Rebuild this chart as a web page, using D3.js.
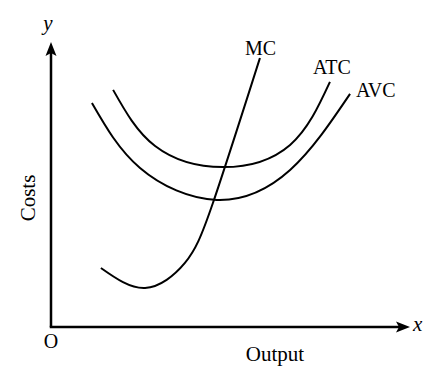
<!DOCTYPE html>
<html>
<head>
<meta charset="utf-8">
<script src="https://cdn.jsdelivr.net/npm/d3@7"></script>
<style>
  html, body { margin: 0; padding: 0; background: #fff; }
  svg { display: block; }
  text { font-family: "Liberation Serif", "Times New Roman", serif; fill: #000; }
</style>
</head>
<body>
<div id="chart"></div>
<script>
// cost curves (output, cost) on a 0..100 scale
var mcOutput  = [13.9, 26.2, 37.3, 45.1, 58.2];
var mcCost    = [20.7, 13.7, 22.5, 43.5, 94.4];

var atcOutput = [17.3, 29.0, 47.9, 66.6, 77.7];
var atcCost   = [83.2, 63.5, 56.1, 63.9, 86.0];

var avcOutput = [11.4, 24.8, 46.2, 66.6, 83.3];
var avcCost   = [78.6, 55.8, 44.6, 55.1, 81.8];

var curveNames = ["MC", "ATC", "AVC"];

var width = 440, height = 386;

var svg = d3.select("#chart")
    .append("svg")
    .attr("width", width)
    .attr("height", height);

var xScale = d3.scaleLinear().domain([0, 100]).range([51, 410]);
var yScale = d3.scaleLinear().domain([0, 100]).range([327, 42]);

var x0 = xScale(0), y0 = yScale(0);
var xEnd = xScale(100), yEnd = yScale(100);

// axes with arrow heads
svg.append("line")
    .attr("x1", x0).attr("y1", y0)
    .attr("x2", x0).attr("y2", yEnd + 10)
    .attr("stroke", "#000")
    .attr("stroke-width", 2.5);

svg.append("line")
    .attr("x1", x0 - 1.25).attr("y1", y0)
    .attr("x2", xEnd - 10).attr("y2", y0)
    .attr("stroke", "#000")
    .attr("stroke-width", 2.5);

svg.append("path")
    .attr("d", "M" + x0 + "," + yEnd +
               " L" + (x0 - 5.5) + "," + (yEnd + 14) +
               " L" + x0 + "," + (yEnd + 11) +
               " L" + (x0 + 5.5) + "," + (yEnd + 14) + " Z")
    .attr("fill", "#000");

svg.append("path")
    .attr("d", "M" + xEnd + "," + y0 +
               " L" + (xEnd - 14) + "," + (y0 - 5.5) +
               " L" + (xEnd - 11) + "," + y0 +
               " L" + (xEnd - 14) + "," + (y0 + 5.5) + " Z")
    .attr("fill", "#000");

// curves
var line = d3.line()
    .x(d => xScale(d[0]))
    .y(d => yScale(d[1]))
    .curve(d3.curveNatural);

var series = [
  d3.zip(mcOutput, mcCost),
  d3.zip(atcOutput, atcCost),
  d3.zip(avcOutput, avcCost)
];

svg.selectAll("path.cost")
    .data(series)
    .enter().append("path")
    .attr("class", "cost")
    .attr("d", line)
    .attr("fill", "none")
    .attr("stroke", "#000")
    .attr("stroke-width", 2);

// curve labels
var labelPos = [[245, 55], [313, 74], [356, 97]];
svg.selectAll("text.curve-label")
    .data(curveNames)
    .enter().append("text")
    .attr("class", "curve-label")
    .attr("x", (d, i) => labelPos[i][0])
    .attr("y", (d, i) => labelPos[i][1])
    .attr("font-size", "20px")
    .text(d => d);

// axis titles
svg.append("text")
    .attr("x", x0 - 3).attr("y", 30)
    .attr("text-anchor", "middle")
    .attr("font-size", "21px")
    .attr("font-style", "italic")
    .text("y");

svg.append("text")
    .attr("x", xEnd + 3).attr("y", 331)
    .attr("font-size", "21px")
    .attr("font-style", "italic")
    .text("x");

svg.append("text")
    .attr("x", x0).attr("y", 348)
    .attr("text-anchor", "middle")
    .attr("font-size", "20px")
    .text("O");

svg.append("text")
    .attr("x", 275).attr("y", 361)
    .attr("text-anchor", "middle")
    .attr("font-size", "21px")
    .text("Output");

svg.append("text")
    .attr("transform", "translate(35,198) rotate(-90)")
    .attr("text-anchor", "middle")
    .attr("font-size", "21px")
    .text("Costs");
</script>
</body>
</html>
